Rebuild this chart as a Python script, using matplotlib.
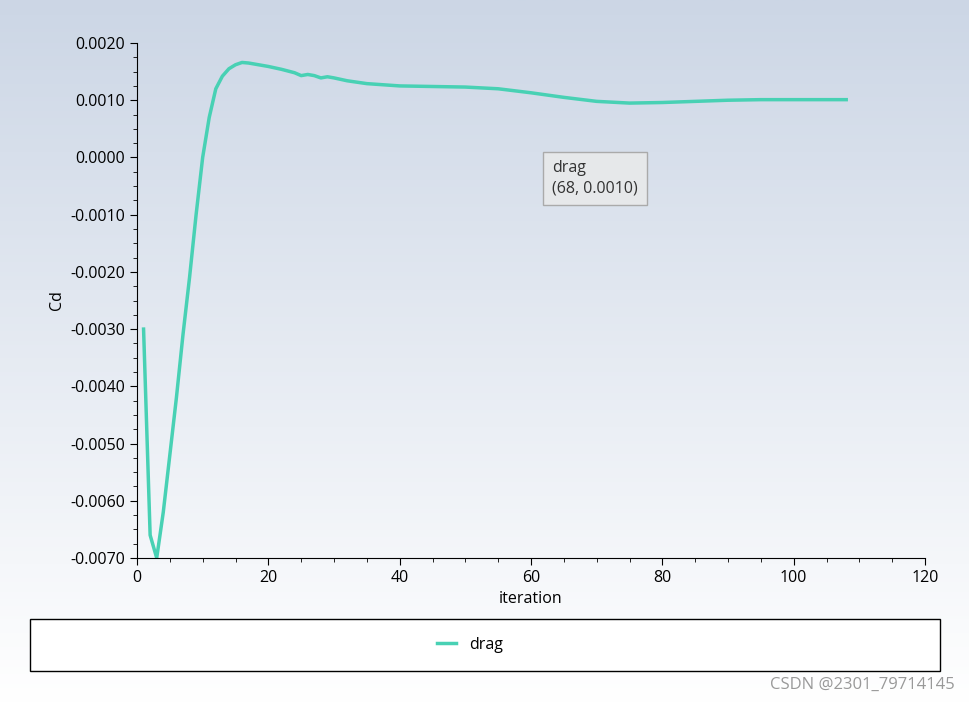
import numpy as np
import matplotlib.pyplot as plt
from matplotlib.ticker import MultipleLocator, FormatStrFormatter
from matplotlib.patches import Rectangle

plt.rcParams['font.family'] = ['Open Sans', 'DejaVu Sans']

iteration = [1, 2, 3, 4, 5, 6, 7, 8, 9, 10, 11, 12, 13, 14, 15, 16, 17, 18, 20, 22, 24,
             25, 26, 27, 28, 29, 30, 32, 35, 40, 45, 50, 55, 60, 65, 70, 75, 80, 85, 90,
             95, 100, 105, 108]
drag = [-0.0030, -0.0066, -0.0070, -0.0062, -0.0052, -0.0042, -0.0031, -0.0021, -0.0010,
        0.0000, 0.0007, 0.0012, 0.00142, 0.00155, 0.00162, 0.00166, 0.00165, 0.00163,
        0.00159, 0.00154, 0.00148, 0.00143, 0.00145, 0.00143, 0.00139, 0.00141, 0.00139,
        0.00134, 0.00129, 0.00125, 0.00124, 0.00123, 0.00120, 0.00113, 0.00105, 0.00098,
        0.00095, 0.00096, 0.00098, 0.00100, 0.00101, 0.00101, 0.00101, 0.00101]

W, H = 969, 703
fig = plt.figure(figsize=(W / 100, H / 100), dpi=100)

# background gradient
bg = fig.add_axes([0, 0, 1, 1], zorder=-10)
grad = np.linspace(0, 1, 256).reshape(-1, 1)
top = np.array([0.80, 0.84, 0.90])
bot = np.array([1.0, 1.0, 1.0])
img = top + (bot - top) * grad[..., None]
bg.imshow(img, aspect='auto', extent=[0, 1, 0, 1], origin='upper')
bg.axis('off')

ax = fig.add_axes([137 / W, 1 - 558 / H, (925 - 137) / W, (558 - 43) / H])
ax.patch.set_alpha(0)
ax.plot(iteration, drag, color='#48d1b4', lw=2.5, label='drag')
ax.set_xlim(0, 120)
ax.set_ylim(-0.0070, 0.0020)
ax.xaxis.set_major_locator(MultipleLocator(20))
ax.xaxis.set_minor_locator(MultipleLocator(5))
ax.yaxis.set_major_locator(MultipleLocator(0.001))
ax.yaxis.set_minor_locator(MultipleLocator(0.00025))
ax.yaxis.set_major_formatter(FormatStrFormatter('%.4f'))
ax.spines['top'].set_visible(False)
ax.spines['right'].set_visible(False)
ax.tick_params(labelsize=11.5, length=5)
ax.tick_params(which='minor', length=3)
ax.set_xlabel('iteration', fontsize=11.5)
ax.set_ylabel('Cd', fontsize=11.5)

# tooltip
ax.text(0.527, 0.772, 'drag\n(68, 0.0010)', transform=ax.transAxes, fontsize=11.5,
        color='#333333', va='top', linespacing=1.3,
        bbox=dict(boxstyle='square,pad=0.55', fc='#e6e8ea', ec='#aaaaaa'))

# legend box
fig.patches.append(Rectangle((30 / W, 1 - 671 / H), 910 / W, 52 / H, transform=fig.transFigure,
                             fc='white', ec='black', lw=1))
fig.legend(loc='center', bbox_to_anchor=(0.485, 1 - 645 / H), frameon=False, fontsize=11.5,
           handlelength=1.2)

fig.text(955 / W, 1 - 685 / H, 'CSDN @2301_79714145', ha='right', va='center',
         fontsize=12, color='#999999')

fig.savefig('out.png', dpi=100)
